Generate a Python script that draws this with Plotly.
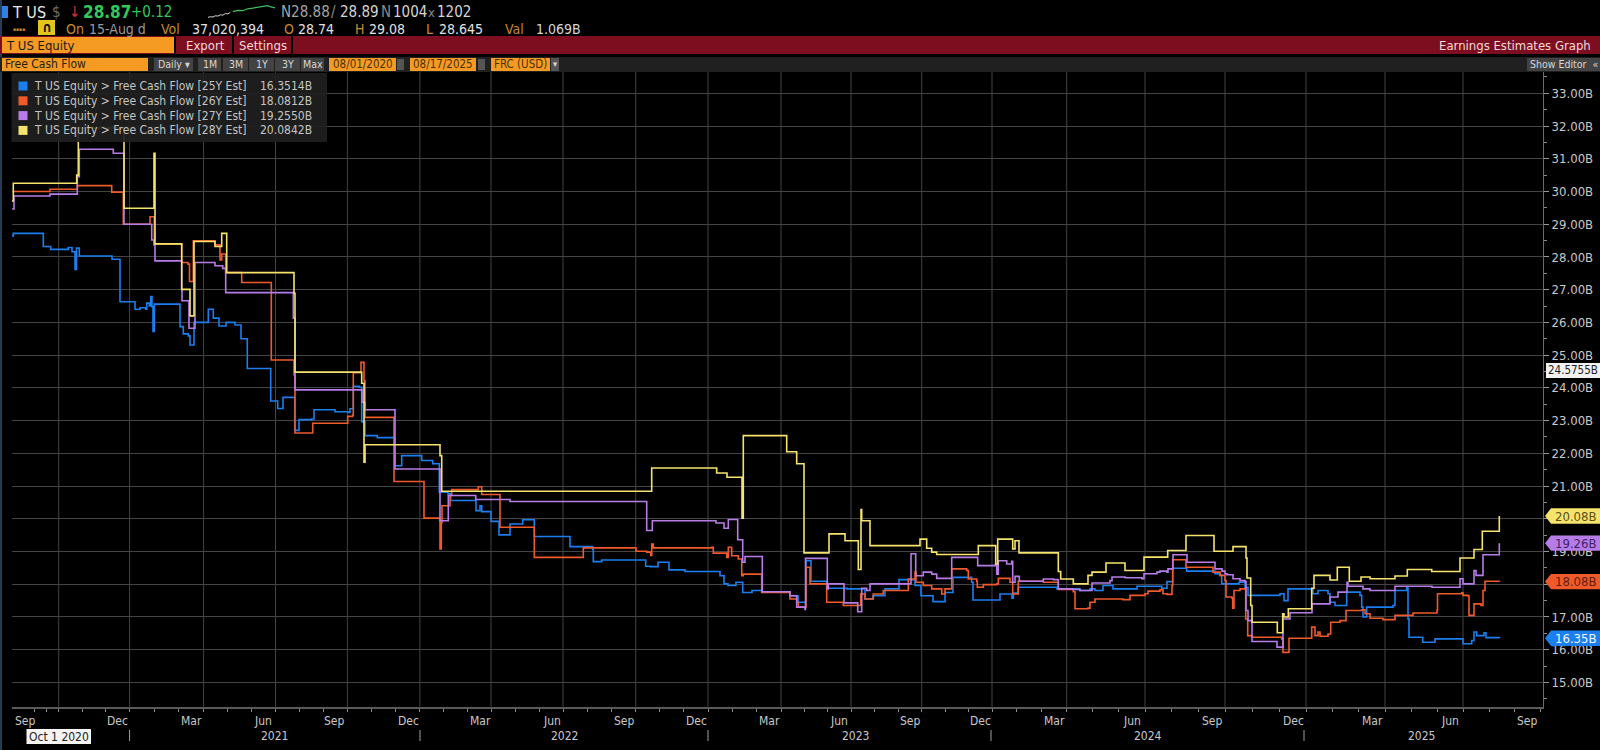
import numpy as np
import plotly.graph_objects as go

# Chart position along the trading-session axis, and free cash flow estimates in $B.
est25_pos = [12,13.3,43.3,50.7,68.3,72,75,76.5,79.3,112,120,135,140,145.7,146.7,149.3,150.7,152,153,154.3,180,183.3,188.3,190,194,208.3,213.3,219,226,235,241,247.3,270.7,277.7,283,294.7,299,311.7,314,335,347.7,350,353.3,359.3,361.7,365,377.3,394.7,401.7,421.7,432.7,439.3,448,450.7,476,480,481.7,491,499,510,522.7,534.3,570,592.7,593.3,601.7,645.7,650,658,669,685,720,724,728,736,742.7,752,762,790,798,806,811,826.7,847,865,873,885,899,915,921,933,945,953,971.7,973,1000,1012,1013.3,1018,1057,1080,1090,1095,1103,1113,1137,1161.7,1167,1172.7,1186.7,1215,1220,1221.7,1239,1245,1248,1280,1284,1288,1313,1318,1328,1330,1335,1346.7,1360,1361.7,1363,1366.7,1393,1395,1406.7,1408,1409,1422.7,1435,1463,1471.7,1474,1476.7,1484,1486,1499.5]
est25_val = [28.64,28.72,28.32,28.23,28.29,28.16,27.62,28.27,28.03,27.93,26.63,26.40,26.45,26.40,26.59,26.50,26.79,26.48,25.72,26.56,25.87,25.65,25.59,25.31,26.0,26.40,26.13,25.89,26.0,25.92,25.5,24.59,23.6,23.37,23.71,22.7,23.03,23.05,23.33,23.27,23.25,23.36,24.05,24.02,22.97,22.54,22.48,21.62,21.93,21.78,21.68,20.81,20.76,20.56,20.25,20.40,20.22,19.92,19.51,19.84,19.97,19.46,19.15,19.06,18.69,18.74,18.55,18.54,18.67,18.44,18.39,18.26,18.01,17.96,18.06,17.75,17.81,17.77,17.65,17.45,18.72,18.09,17.88,17.86,17.55,17.65,17.86,18.14,17.96,17.65,17.47,17.75,18.21,18.06,17.52,17.70,17.57,17.73,17.91,17.86,17.81,17.86,17.81,17.96,17.86,17.94,17.88,18.08,18.49,18.40,18.32,18.27,18.01,18.06,17.91,17.66,17.71,17.50,17.86,17.71,17.81,17.71,17.45,17.35,17.76,17.66,17.30,17.0,17.30,17.35,17.81,17.91,16.94,16.38,16.23,16.33,16.18,16.28,16.54,16.43,16.52,16.37,16.3514]

est26_pos = [13.3,50,77.3,111.7,123.3,150,154.3,181.7,188,189.5,193.3,215,220,221.7,225.7,241.7,271.3,294,295,312.7,347.7,352.7,353.3,361,364,365,394,424,440,441.3,442,450,451.7,478.3,481.7,500,534.3,583.3,636,646.7,650.7,651.7,653.3,711.7,713.3,726.7,728.3,731.7,738.3,741.7,743.3,761.7,790,796.7,798.3,806,810,826.7,843.3,860.7,865,873.3,883.3,908.3,915,916,923.3,931.7,941.7,945,951.7,966.7,968.3,976.7,977.3,983.3,996.7,998.3,1010,1012.7,1018.3,1043.3,1058.3,1073.3,1075,1088,1090,1095,1123,1130,1145,1148,1160,1163,1167,1172,1172.7,1186,1213,1220,1225,1226,1232,1232.7,1234,1240,1245.7,1247.7,1251.7,1281.7,1283,1289,1311.7,1315,1318,1320,1328,1330.7,1340,1346,1361.7,1365,1370,1383,1395,1413,1437,1437.5,1461.7,1463,1468,1469,1474,1481,1483,1485,1499.5]
est26_val = [30.0,30.07,30.18,29.98,29.0,29.23,28.40,27.83,27.78,27.25,28.49,28.37,27.91,28.09,27.52,27.22,24.85,24.40,22.62,22.92,23.13,23.17,24.46,24.78,24.22,23.10,21.14,20.02,19.08,19.89,20.4,20.71,20.89,20.98,20.74,19.74,18.82,19.11,19.01,18.98,18.88,19.23,19.11,19.13,18.95,18.82,19.13,18.87,18.77,18.26,18.31,17.75,17.55,17.45,17.30,18.52,18.01,17.45,17.35,17.70,17.55,17.70,17.81,18.16,18.37,18.06,17.96,17.86,17.70,17.86,18.47,18.42,18.16,18.09,17.91,17.99,18.01,18.18,18.06,17.70,18.09,18.06,17.84,17.77,17.25,17.27,17.45,17.55,17.53,17.66,17.71,17.79,17.83,17.71,17.69,17.96,18.75,18.52,18.37,18.27,18.11,17.61,17.57,17.27,17.81,17.86,16.94,16.43,16.38,16.33,15.92,16.35,16.69,16.43,16.54,16.41,16.48,16.84,16.89,17.20,17.22,17.10,16.96,16.92,17.05,17.12,17.20,17.71,17.74,17.66,17.64,17.05,17.40,17.35,17.81,18.09,18.0812]

est27_pos = [12.3,14,50,77.3,79.3,113.3,124,151.7,154,155,181.7,182,189,195,215,222.7,225.7,293.3,295,362,365,395,440,448.3,475.7,510,646.7,652.3,716,724,728.3,737.7,742.7,745,762.3,790,796.7,805,805.5,827.3,828.3,844,857.7,861.7,866.7,870,911,915.7,923.3,931.7,936.7,951.7,977.7,995,996.7,998.3,1006.7,1011.7,1012.7,1015,1019.3,1043.3,1053.3,1058.3,1073,1080,1092,1110,1112,1125,1142,1144,1157,1160,1167,1168,1173,1187,1215,1222,1225,1227,1233,1240,1245,1246,1248,1252,1277,1283,1290,1312,1330,1338,1347,1348,1363,1370,1395,1432,1460,1463,1474,1476,1483,1499.3]
est27_val = [29.47,29.86,29.92,30.45,31.29,31.17,29.0,28.52,28.37,27.88,26.99,26.66,25.82,27.83,27.73,27.65,26.91,26.13,23.94,23.56,23.33,21.52,19.94,20.71,20.59,20.53,19.64,19.94,19.87,19.71,19.98,19.36,18.67,18.85,17.77,17.65,17.30,17.23,18.79,17.86,18.01,17.43,17.16,17.88,17.81,18.01,18.93,18.26,18.37,18.31,18.18,18.82,18.57,18.59,18.31,18.72,18.62,18.70,18.06,18.24,18.09,18.16,18.14,17.86,17.84,17.81,18.04,18.11,18.22,18.20,18.17,18.32,18.37,18.40,18.37,18.47,18.90,18.67,18.47,18.40,18.32,18.29,18.17,18.11,18.08,17.20,16.89,16.25,16.08,16.94,17.13,17.40,17.61,17.76,18.06,17.94,17.86,17.81,17.94,17.91,18.17,18.01,18.42,18.27,18.90,19.255]

est28_pos = [12,13.3,76.7,78.3,124,154,155,181.7,190,194,215,221.7,226.7,294,295,361.7,364,365,440,441.7,651.7,716.7,727,742,743.3,786.7,796.7,804,829,845,858.3,861,861.7,870,920,926.7,931.7,936.7,978.3,995.7,997.7,1012.7,1015,1019,1058.3,1060.7,1073.3,1088,1092,1106,1125,1144,1167.7,1186,1214,1233,1246,1247,1250.7,1252,1277.3,1282.7,1284,1288.3,1311.7,1314,1330,1337.3,1349.3,1361,1370,1395,1407.3,1431.7,1460,1474,1482.3,1499.3]
est28_val = [29.71,30.25,30.5,31.94,29.49,31.17,28.40,27.01,26.2,28.47,28.32,28.72,27.52,26.89,24.48,24.14,21.73,22.26,21.93,20.84,21.55,21.40,21.27,20.02,22.54,22.05,21.68,18.96,19.54,19.33,18.45,20.28,19.94,19.18,19.38,19.10,18.98,18.91,19.18,18.62,19.38,19.08,19.33,18.96,18.39,18.16,18.01,18.27,18.37,18.65,18.42,18.83,19.03,19.49,19.01,19.15,18.80,18.19,17.35,16.84,16.52,17.10,17.0,17.25,17.88,18.27,18.13,18.52,18.09,18.22,18.17,18.25,18.45,18.39,18.80,19.06,19.62,20.0842]

# Legend and flag text
series_names = ["T US Equity > Free Cash Flow [25Y Est]", "T US Equity > Free Cash Flow [26Y Est]",
                "T US Equity > Free Cash Flow [27Y Est]", "T US Equity > Free Cash Flow [28Y Est]"]
series_last = ["16.3514B", "18.0812B", "19.2550B", "20.0842B"]
flag_values = [20.0842, 19.2550, 18.0812, 16.3514]
flag_labels = ["20.08B", "19.26B", "18.08B", "16.35B"]
crosshair_value = 24.5755

# Axis labelling; the 18 and 20 labels sit fully behind the value flags
value_ticks = list(range(15, 34))
value_tick_text = ["" if v in (18, 20) else f"{v}.00B" for v in value_ticks]
quarter_starts = [58.7,129.6,203.6,275.5,347.4,419.9,491,563,635.7,708,781,851,921.7,992,1066.7,1145,1225,1306,1385,1463]
month_labels = ["Sep","Dec","Mar","Jun","Sep","Dec","Mar","Jun","Sep","Dec","Mar","Jun","Sep","Dec","Mar","Jun","Sep","Dec","Mar","Jun","Sep"]
month_label_pos = [25,117,191,263,334,408,480,552,624,696,769,839,910,980,1054,1132,1212,1293,1372,1450,1527]
year_labels = ["2021","2022","2023","2024","2025"]
year_label_pos = [274,564,855,1148,1421]
year_breaks = [129.6,420,708,991,1304]

# Intraday sparkline of the share price
spark_white_t = [0,1,2,3,4,5,6,7,8,9]
spark_white_p = [28.66,28.68,28.67,28.71,28.70,28.74,28.73,28.78,28.77,28.82]
spark_green_t = [10,12,14,16,18,20,22,24,25,27]
spark_green_p = [28.84,28.88,28.87,28.93,28.95,28.98,29.02,29.03,29.0,28.96]

BLUE, ORANGE, PURPLE, YELLOW = "#1b7ff0", "#f05a2b", "#b87ce9", "#f6e36c"
GRID = "#444444"
TEXT = "#c9c9c9"
FONT = "DejaVu Sans Condensed, Roboto, sans-serif"
W, H = 1600, 750

# Plot rectangle in page pixels
LEFT, RIGHT, TOP, BOTTOM = 12, 1543, 72, 706.7

fig = go.Figure()
for pos, val, color, name in [(est25_pos, est25_val, BLUE, series_names[0]),
                              (est26_pos, est26_val, ORANGE, series_names[1]),
                              (est27_pos, est27_val, PURPLE, series_names[2]),
                              (est28_pos, est28_val, YELLOW, series_names[3])]:
    fig.add_trace(go.Scatter(x=pos, y=val, mode="lines", name=name, showlegend=False,
                             line=dict(color=color, width=1.6, shape="hv"), hoverinfo="skip"))

fig.add_trace(go.Scatter(x=spark_white_t, y=spark_white_p, xaxis="x2", yaxis="y2", mode="lines",
                         line=dict(color="#d8d8d8", width=1), showlegend=False, hoverinfo="skip"))
fig.add_trace(go.Scatter(x=spark_green_t, y=spark_green_p, xaxis="x2", yaxis="y2", mode="lines",
                         line=dict(color="#3fbf5f", width=1.2), showlegend=False, hoverinfo="skip"))

shapes, annotations = [], []


def px_x(x):
    return x / W


def px_y(y):
    return 1 - y / H


def box(x0, y0, x1, y1, fill, layer="above", line=None):
    shapes.append(dict(type="rect", xref="paper", yref="paper", x0=px_x(x0), x1=px_x(x1),
                       y0=px_y(y1), y1=px_y(y0), fillcolor=fill, layer=layer,
                       line=dict(width=0) if line is None else line))


def label(x, y, text, color=TEXT, size=12, anchor="left", bold=False, font=FONT):
    annotations.append(dict(xref="paper", yref="paper", x=px_x(x), y=px_y(y), text=f"<b>{text}</b>" if bold else text,
                            showarrow=False, xanchor=anchor, yanchor="middle", borderpad=0,
                            font=dict(color=color, size=size, family=font)))


# Quarter gridlines sit under the estimate lines
for q in quarter_starts:
    shapes.append(dict(type="line", xref="x", yref="paper", x0=q, x1=q, y0=px_y(BOTTOM), y1=px_y(TOP),
                       layer="below", line=dict(color=GRID, width=1)))

# Window edge
shapes.append(dict(type="line", xref="paper", yref="paper", x0=px_x(1), x1=px_x(1), y0=0, y1=1,
                   line=dict(color="#4a7cb0", width=1), layer="above"))

# Quote rows
box(2, 6, 8, 18, "#2f7fe6")
label(11, 12, "T US", "#e8e8e8", 16)
label(51, 12, "$", "#6e6e6e", 15)
label(68, 12, "↓", "#d8303a", 15)
label(82, 12, "28.87", "#35c75a", 17, bold=True)
label(130, 12, "+0.12", "#35c75a", 15)
label(280, 12, "N28.88", "#a5a5a5", 15)
label(330, 12, "/", "#8a8a8a", 15)
label(339, 12, "28.89", "#d5d5d5", 15)
label(380, 12, "N", "#8a8a8a", 15)
label(392, 12, "1004", "#d5d5d5", 15)
label(427, 12, "x", "#8a8a8a", 13)
label(436, 12, "1202", "#d5d5d5", 15)

label(12, 29, "▪▪▪▪", "#c08030", 5)
box(38, 20, 55, 35, "#e3c51c")
label(46.5, 27.5, "∩", "#101010", 14, anchor="center", bold=True)
for x, text, color in [(65, "On", "#c8892e"), (88, "15-Aug d", "#9a9a9a"), (160, "Vol", "#c8892e"),
                       (191, "37,020,394", "#e2e2e2"), (283, "O", "#c8892e"), (297, "28.74", "#e2e2e2"),
                       (354, "H", "#c8892e"), (368, "29.08", "#e2e2e2"), (425, "L", "#c8892e"),
                       (438, "28.645", "#e2e2e2"), (504, "Val", "#c8892e"), (535, "1.069B", "#d5d5d5")]:
    label(x, 29, text, color, 14)

# Function bar
box(0, 36, W, 54, "#7c0e1f")
box(2, 37, 174, 53, "#f59b23")
label(5, 45, "T US Equity", "#1a1a1a", 13)
box(174, 36, 176, 54, "#000000")
box(232, 36, 234, 54, "#000000")
box(291, 36, 293, 54, "#000000")
label(185, 45, "Export", "#f2d9d9", 13)
label(238, 45, "Settings", "#f2d9d9", 13)
label(1592, 45, "Earnings Estimates Graph", "#f2d9d9", 13, anchor="right")

# Control row
box(0, 57, W, 72, "#202020")
box(2, 58, 148, 71, "#f59b23")
label(4, 64.5, "Free Cash Flow", "#2a1c08", 12)
for x0, x1, text in [(154, 193, "Daily ▾"), (198, 221, "1M"), (223, 248, "3M"), (249, 274, "1Y"),
                     (275, 300, "3Y"), (301, 324, "Max")]:
    box(x0, 58, x1, 71, "#434343")
    label((x0 + x1) / 2, 64.5, text, "#d8d8d8", 10.5, anchor="center")
for x0, x1, text in [(329, 396, "08/01/2020"), (410, 476, "08/17/2025"), (491, 550, "FRC (USD)")]:
    box(x0, 58, x1, 71, "#f59b23")
    label((x0 + x1) / 2, 64.5, text, "#4a3208", 11.5, anchor="center")
for x0, x1 in [(397, 404), (478, 485)]:
    box(x0, 59, x1, 70, "#555555")
box(551, 58, 559, 71, "#555555")
label(555, 64.5, "▾", "#d8d8d8", 9, anchor="center")
box(1527, 58, 1600, 71, "#434343")
label(1563.5, 64.5, "Show Editor  «", "#d8d8d8", 10.5, anchor="center")

# Legend panel over the lines
box(11.5, 73, 327, 142, "rgba(32,32,32,0.92)")
for i, color in enumerate([BLUE, ORANGE, PURPLE, YELLOW]):
    y = 86 + i * 14.8
    box(18.5, y - 4.5, 27.5, y + 4.5, color)
    label(32.5, y, series_names[i], "#c4c4c4", 12)
    label(259, y, series_last[i], "#c4c4c4", 12)


# Value flags on the right edge
def flag(value, text, fill, color):
    half = 0.235
    x_tip, x_body = px_x(1545), px_x(1551)
    shapes.append(dict(type="path", xref="paper", yref="y", layer="above", fillcolor=fill, line=dict(width=0),
                       path=f"M {x_tip},{value} L {x_body},{value + half} L 1,{value + half} "
                            f"L 1,{value - half} L {x_body},{value - half} Z"))
    annotations.append(dict(xref="paper", yref="y", x=px_x(1553), y=value, text=text, showarrow=False,
                            xanchor="left", yanchor="middle", font=dict(color=color, size=13, family=FONT)))


flag(flag_values[0], flag_labels[0], YELLOW, "#5c5016")
flag(flag_values[1], flag_labels[1], PURPLE, "#3d2360")
flag(flag_values[2], flag_labels[2], ORANGE, "#5e1f08")
flag(flag_values[3], flag_labels[3], BLUE, "#f2f7ff")

# Crosshair readout
box(1546, 363, 1600, 378, "#f2f2f2")
annotations.append(dict(xref="paper", yref="y", x=px_x(1573), y=crosshair_value - 0.04, text=f"{crosshair_value:.4f}B",
                        showarrow=False, xanchor="center", yanchor="middle",
                        font=dict(color="#222222", size=11.5, family=FONT)))

# Month, year and date readouts under the axis
for x, text in zip(month_label_pos, month_labels):
    annotations.append(dict(xref="x", yref="paper", x=x, y=px_y(720.5), text=text, showarrow=False,
                            xanchor="center", yanchor="middle", font=dict(color=TEXT, size=12, family=FONT)))
for x, text in zip(year_label_pos, year_labels):
    annotations.append(dict(xref="x", yref="paper", x=x, y=px_y(735.5), text=text, showarrow=False,
                            xanchor="center", yanchor="middle", font=dict(color=TEXT, size=12, family=FONT)))
for x in year_breaks:
    shapes.append(dict(type="line", xref="x", yref="paper", x0=x, x1=x, y0=px_y(741), y1=px_y(730),
                       line=dict(color="#a0a0a0", width=1)))
box(26.5, 729, 91, 744, "#f4f4f4")
label(58.7, 736.5, "Oct 1 2020", "#222222", 12, anchor="center")

# Month ticks: each quarter is split into three equal steps
q = np.array(quarter_starts)
month_ticks = [34.0, 46.5] + [v for a, b in zip(q[:-1], q[1:]) for v in np.linspace(a, b, 3, endpoint=False)] + [1463, 1489, 1514, 1540]

fig.update_layout(
    width=W, height=H, autosize=False, margin=dict(l=0, r=0, t=0, b=0),
    paper_bgcolor="#000000", plot_bgcolor="#000000", showlegend=False,
    shapes=shapes, annotations=annotations,
    xaxis=dict(domain=[px_x(LEFT), px_x(RIGHT)], range=[LEFT, RIGHT], showgrid=False, zeroline=False,
               tickmode="array", tickvals=month_ticks, ticktext=[""] * len(month_ticks),
               ticks="outside", ticklen=3, tickcolor="#8a8a8a", showline=True, linecolor="#5a5a5a", linewidth=2),
    yaxis=dict(domain=[px_y(BOTTOM), px_y(TOP)], range=[33 - (BOTTOM - 93.3) / 32.73, 33 + (93.3 - TOP) / 32.73],
               side="right", tickmode="array", tickvals=value_ticks, ticktext=value_tick_text,
               showgrid=True, gridcolor=GRID, gridwidth=1, zeroline=False, showline=True, linecolor="#6a6a6a",
               linewidth=1, ticks="outside", ticklen=5, tickcolor="#9a9a9a",
               tickfont=dict(color=TEXT, size=13, family=FONT),
               minor=dict(tickmode="array", tickvals=[v + 0.5 for v in range(14, 34)], ticks="outside",
                          ticklen=3, tickcolor="#8a8a8a", showgrid=False)),
    xaxis2=dict(domain=[px_x(208), px_x(275)], anchor="y2", visible=False, fixedrange=True),
    yaxis2=dict(domain=[px_y(18), px_y(5)], anchor="x2", visible=False, fixedrange=True),
)

fig.write_html("out.html", config=dict(displayModeBar=False))
